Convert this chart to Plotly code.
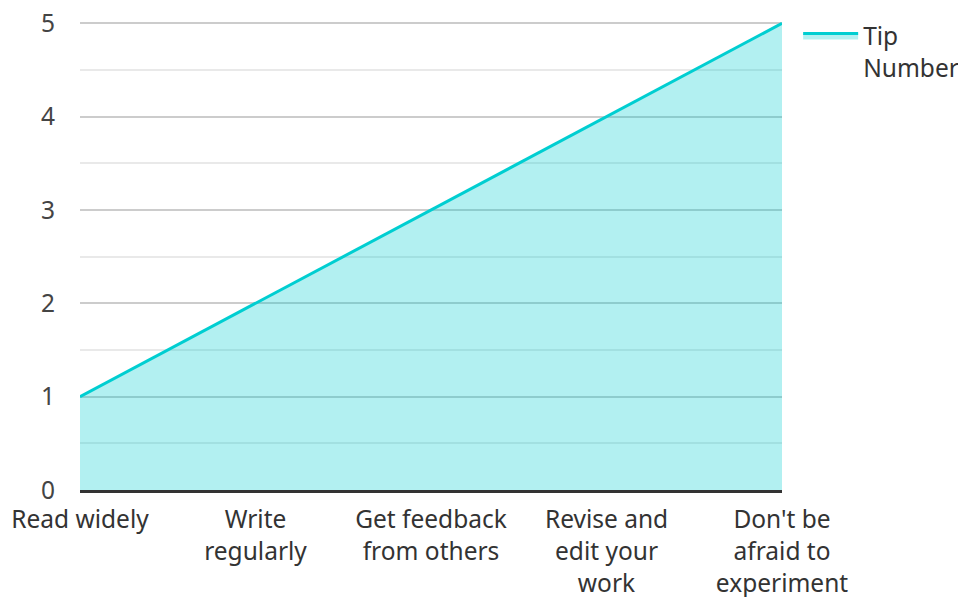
import plotly.graph_objects as go

categories = ["Read widely", "Write regularly", "Get feedback from others",
              "Revise and edit your work", "Don't be afraid to experiment"]
tick_labels = ["Read widely", "Write<br>regularly", "Get feedback<br>from others",
               "Revise and<br>edit your<br>work", "Don't be<br>afraid to<br>experiment"]
values = [1, 2, 3, 4, 5]
y_ticks = [0, 1, 2, 3, 4, 5]
series_name = "Tip<br>Number"

FONT = "Noto Sans, Open Sans, sans-serif"
FS = 24.5

fig = go.Figure()
fig.add_trace(go.Scatter(
    x=categories, y=values, name=series_name, mode="lines",
    line=dict(color="#00CED1", width=3),
    fill="tozeroy", fillcolor="rgba(0,206,209,0.3)",
))

# page body has an 8px default margin, so the figure is 8px smaller
fig.update_layout(
    width=958, height=589,
    margin=dict(l=72, r=184, t=13, b=107, autoexpand=False),
    paper_bgcolor="white", plot_bgcolor="white",
    font=dict(family=FONT, size=FS, color="#333333"),
    showlegend=True,
    legend=dict(x=1.023, y=1.017, xanchor="left", yanchor="top",
                font=dict(size=FS, color="#333333"), valign="top",
                itemwidth=55, tracegroupgap=0),
    xaxis=dict(
        range=[0, 4], tickmode="array", tickvals=categories, ticktext=tick_labels,
        showgrid=False, showline=True, linecolor="#333333", linewidth=3,
        ticks="", zeroline=False, tickfont=dict(size=FS, color="#333333"),
        automargin=False, ticklabelstandoff=6, ticklabeloverflow="allow",
    ),
    yaxis=dict(
        range=[0, 5.025], tickmode="array", tickvals=y_ticks,
        showgrid=True, gridcolor="#cccccc", gridwidth=1.5,
        minor=dict(dtick=0.5, tick0=0, showgrid=True, gridcolor="#e9e9e9", gridwidth=1.5),
        zeroline=False, showline=False, ticks="", automargin=False,
        ticklabelstandoff=24, tickfont=dict(size=FS, color="#444444"),
        ticklabeloverflow="allow",
    ),
)

fig.write_html("out.html")
